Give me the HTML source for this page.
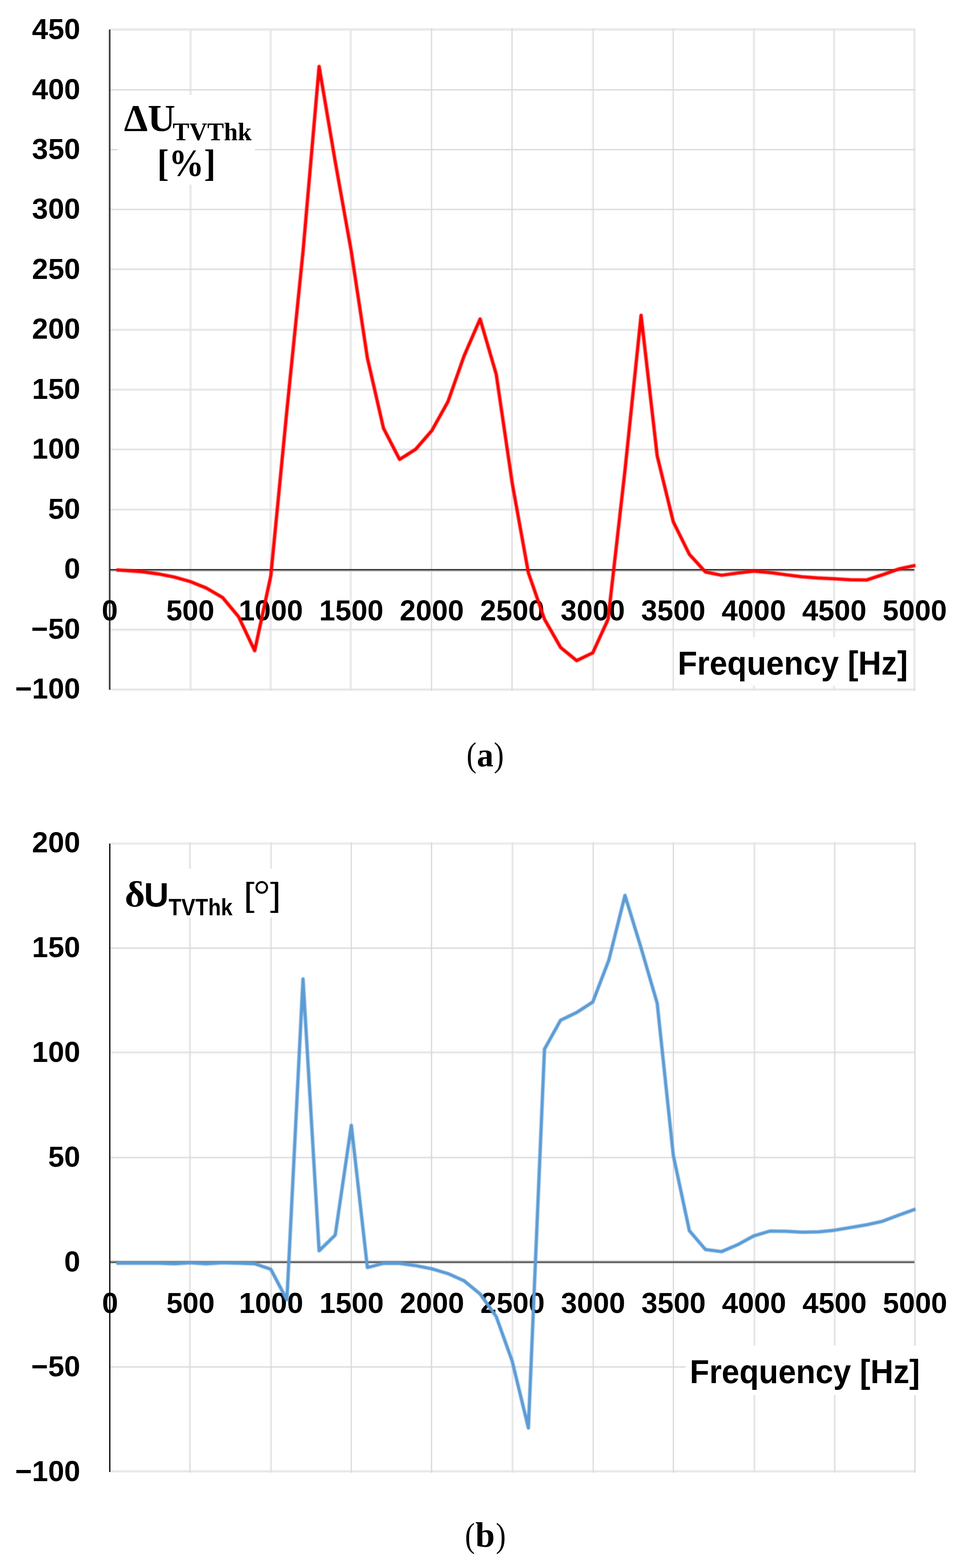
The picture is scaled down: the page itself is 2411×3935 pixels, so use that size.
<!DOCTYPE html>
<html lang="en"><head><meta charset="utf-8"><title>Figure: voltage error versus frequency</title>
<style>html,body{margin:0;padding:0;background:#fff}svg{display:block}text{filter:url(#ts)}.tk{font-family:"Liberation Sans",sans-serif;font-weight:bold;font-size:72.5px;fill:#000}.ax{font-family:"Liberation Sans",sans-serif;font-weight:bold;font-size:83.8px;fill:#000}.sb{font-family:"Liberation Serif",serif;font-weight:bold;fill:#000}.sr{font-family:"Liberation Serif",serif;font-weight:normal;fill:#000}.nb{font-family:"Liberation Sans",sans-serif;font-weight:bold;fill:#000}.nr{font-family:"Liberation Sans",sans-serif;font-weight:normal;fill:#000}</style></head><body>
<svg xmlns="http://www.w3.org/2000/svg" width="2411" height="3935" viewBox="0 0 2411 3935">
<defs><filter id="soft" x="-2%" y="-2%" width="104%" height="104%" filterUnits="objectBoundingBox"><feGaussianBlur stdDeviation="1.0"/></filter><filter id="ts" x="-5%" y="-20%" width="110%" height="140%"><feGaussianBlur stdDeviation="0.7"/></filter></defs>
<rect width="2411" height="3935" fill="#fff"/>
<g shape-rendering="crispEdges">
<rect x="277.0" y="71.0" width="2017.0" height="3.0" fill="#eaeaea"/>
<rect x="277.0" y="74.0" width="2017.0" height="3.0" fill="#eaeaea"/>
<rect x="277.0" y="224.0" width="2017.0" height="3.0" fill="#d9d9d9"/>
<rect x="277.0" y="227.0" width="2017.0" height="3.0" fill="#fcfcfc"/>
<rect x="277.0" y="374.0" width="2017.0" height="3.0" fill="#d9d9d9"/>
<rect x="277.0" y="377.0" width="2017.0" height="3.0" fill="#fcfcfc"/>
<rect x="277.0" y="524.0" width="2017.0" height="3.0" fill="#dbdbdb"/>
<rect x="277.0" y="527.0" width="2017.0" height="3.0" fill="#fbfbfb"/>
<rect x="277.0" y="674.0" width="2017.0" height="3.0" fill="#dbdbdb"/>
<rect x="277.0" y="677.0" width="2017.0" height="3.0" fill="#fafafa"/>
<rect x="277.0" y="824.0" width="2017.0" height="3.0" fill="#f2f2f2"/>
<rect x="277.0" y="827.0" width="2017.0" height="3.0" fill="#e2e2e2"/>
<rect x="277.0" y="974.0" width="2017.0" height="3.0" fill="#f4f4f4"/>
<rect x="277.0" y="977.0" width="2017.0" height="3.0" fill="#e1e1e1"/>
<rect x="277.0" y="1124.3" width="2017.0" height="3.0" fill="#f4f4f4"/>
<rect x="277.0" y="1127.3" width="2017.0" height="3.0" fill="#e1e1e1"/>
<rect x="277.0" y="1274.6" width="2017.0" height="3.0" fill="#f4f4f4"/>
<rect x="277.0" y="1277.6" width="2017.0" height="3.0" fill="#e1e1e1"/>
<rect x="277.0" y="1578.0" width="2017.0" height="3.0" fill="#e2e2e2"/>
<rect x="277.0" y="1581.0" width="2017.0" height="3.0" fill="#f0f0f0"/>
<rect x="277.0" y="1727.6" width="2017.0" height="3.0" fill="#e4e4e4"/>
<rect x="277.0" y="1730.6" width="2017.0" height="3.0" fill="#f0f0f0"/>
<rect x="475.0" y="74.0" width="3.0" height="1657.0" fill="#ebebeb"/>
<rect x="478.0" y="74.0" width="3.0" height="1657.0" fill="#ebebeb"/>
<rect x="676.0" y="74.0" width="3.0" height="1657.0" fill="#ebebeb"/>
<rect x="679.0" y="74.0" width="3.0" height="1657.0" fill="#ebebeb"/>
<rect x="877.0" y="74.0" width="3.0" height="1657.0" fill="#ececec"/>
<rect x="880.0" y="74.0" width="3.0" height="1657.0" fill="#ececec"/>
<rect x="1081.0" y="74.0" width="3.0" height="1657.0" fill="#dddddd"/>
<rect x="1084.0" y="74.0" width="3.0" height="1657.0" fill="#fafafa"/>
<rect x="1282.5" y="74.0" width="3.0" height="1657.0" fill="#dcdcdc"/>
<rect x="1285.5" y="74.0" width="3.0" height="1657.0" fill="#fafafa"/>
<rect x="1484.0" y="74.0" width="3.0" height="1657.0" fill="#f4f4f4"/>
<rect x="1487.0" y="74.0" width="3.0" height="1657.0" fill="#e1e1e1"/>
<rect x="1685.0" y="74.0" width="3.0" height="1657.0" fill="#f6f6f6"/>
<rect x="1688.0" y="74.0" width="3.0" height="1657.0" fill="#e1e1e1"/>
<rect x="1889.0" y="74.0" width="3.0" height="1657.0" fill="#e6e6e6"/>
<rect x="1892.0" y="74.0" width="3.0" height="1657.0" fill="#f0f0f0"/>
<rect x="2090.0" y="74.0" width="3.0" height="1657.0" fill="#e7e7e7"/>
<rect x="2093.0" y="74.0" width="3.0" height="1657.0" fill="#efefef"/>
<rect x="2291.0" y="74.0" width="3.0" height="1657.0" fill="#eaeaea"/>
<rect x="2294.0" y="74.0" width="3.0" height="1657.0" fill="#eaeaea"/>
<rect x="475.0" y="71.0" width="3.0" height="3.0" fill="#e7e7e7"/>
<rect x="478.0" y="71.0" width="3.0" height="3.0" fill="#e7e7e7"/>
<rect x="475.0" y="74.0" width="3.0" height="3.0" fill="#e7e7e7"/>
<rect x="478.0" y="74.0" width="3.0" height="3.0" fill="#e7e7e7"/>
<rect x="676.0" y="71.0" width="3.0" height="3.0" fill="#e7e7e7"/>
<rect x="679.0" y="71.0" width="3.0" height="3.0" fill="#e7e7e7"/>
<rect x="676.0" y="74.0" width="3.0" height="3.0" fill="#e7e7e7"/>
<rect x="679.0" y="74.0" width="3.0" height="3.0" fill="#e7e7e7"/>
<rect x="877.0" y="71.0" width="3.0" height="3.0" fill="#e7e7e7"/>
<rect x="880.0" y="71.0" width="3.0" height="3.0" fill="#e7e7e7"/>
<rect x="877.0" y="74.0" width="3.0" height="3.0" fill="#e7e7e7"/>
<rect x="880.0" y="74.0" width="3.0" height="3.0" fill="#e7e7e7"/>
<rect x="1081.0" y="71.0" width="3.0" height="3.0" fill="#dadada"/>
<rect x="1084.0" y="71.0" width="3.0" height="3.0" fill="#e9e9e9"/>
<rect x="1081.0" y="74.0" width="3.0" height="3.0" fill="#dadada"/>
<rect x="1084.0" y="74.0" width="3.0" height="3.0" fill="#e9e9e9"/>
<rect x="1282.5" y="71.0" width="3.0" height="3.0" fill="#d9d9d9"/>
<rect x="1285.5" y="71.0" width="3.0" height="3.0" fill="#e9e9e9"/>
<rect x="1282.5" y="74.0" width="3.0" height="3.0" fill="#d9d9d9"/>
<rect x="1285.5" y="74.0" width="3.0" height="3.0" fill="#e9e9e9"/>
<rect x="1484.0" y="71.0" width="3.0" height="3.0" fill="#e8e8e8"/>
<rect x="1487.0" y="71.0" width="3.0" height="3.0" fill="#dddddd"/>
<rect x="1484.0" y="74.0" width="3.0" height="3.0" fill="#e8e8e8"/>
<rect x="1487.0" y="74.0" width="3.0" height="3.0" fill="#dddddd"/>
<rect x="1685.0" y="71.0" width="3.0" height="3.0" fill="#e9e9e9"/>
<rect x="1688.0" y="71.0" width="3.0" height="3.0" fill="#dddddd"/>
<rect x="1685.0" y="74.0" width="3.0" height="3.0" fill="#e9e9e9"/>
<rect x="1688.0" y="74.0" width="3.0" height="3.0" fill="#dddddd"/>
<rect x="1889.0" y="71.0" width="3.0" height="3.0" fill="#e3e3e3"/>
<rect x="1892.0" y="71.0" width="3.0" height="3.0" fill="#e8e8e8"/>
<rect x="1889.0" y="74.0" width="3.0" height="3.0" fill="#e3e3e3"/>
<rect x="1892.0" y="74.0" width="3.0" height="3.0" fill="#e8e8e8"/>
<rect x="2090.0" y="71.0" width="3.0" height="3.0" fill="#e4e4e4"/>
<rect x="2093.0" y="71.0" width="3.0" height="3.0" fill="#e8e8e8"/>
<rect x="2090.0" y="74.0" width="3.0" height="3.0" fill="#e4e4e4"/>
<rect x="2093.0" y="74.0" width="3.0" height="3.0" fill="#e8e8e8"/>
<rect x="2291.0" y="71.0" width="3.0" height="3.0" fill="#e7e7e7"/>
<rect x="2294.0" y="71.0" width="3.0" height="3.0" fill="#e7e7e7"/>
<rect x="2291.0" y="74.0" width="3.0" height="3.0" fill="#e7e7e7"/>
<rect x="2294.0" y="74.0" width="3.0" height="3.0" fill="#e7e7e7"/>
<rect x="475.0" y="224.0" width="3.0" height="3.0" fill="#d9d9d9"/>
<rect x="478.0" y="224.0" width="3.0" height="3.0" fill="#d9d9d9"/>
<rect x="475.0" y="227.0" width="3.0" height="3.0" fill="#ebebeb"/>
<rect x="478.0" y="227.0" width="3.0" height="3.0" fill="#ebebeb"/>
<rect x="676.0" y="224.0" width="3.0" height="3.0" fill="#d9d9d9"/>
<rect x="679.0" y="224.0" width="3.0" height="3.0" fill="#d9d9d9"/>
<rect x="676.0" y="227.0" width="3.0" height="3.0" fill="#ebebeb"/>
<rect x="679.0" y="227.0" width="3.0" height="3.0" fill="#ebebeb"/>
<rect x="877.0" y="224.0" width="3.0" height="3.0" fill="#d9d9d9"/>
<rect x="880.0" y="224.0" width="3.0" height="3.0" fill="#d9d9d9"/>
<rect x="877.0" y="227.0" width="3.0" height="3.0" fill="#ececec"/>
<rect x="880.0" y="227.0" width="3.0" height="3.0" fill="#ececec"/>
<rect x="1081.0" y="224.0" width="3.0" height="3.0" fill="#d9d9d9"/>
<rect x="1084.0" y="224.0" width="3.0" height="3.0" fill="#d9d9d9"/>
<rect x="1081.0" y="227.0" width="3.0" height="3.0" fill="#dcdcdc"/>
<rect x="1084.0" y="227.0" width="3.0" height="3.0" fill="#fafafa"/>
<rect x="1282.5" y="224.0" width="3.0" height="3.0" fill="#d9d9d9"/>
<rect x="1285.5" y="224.0" width="3.0" height="3.0" fill="#d9d9d9"/>
<rect x="1282.5" y="227.0" width="3.0" height="3.0" fill="#dcdcdc"/>
<rect x="1285.5" y="227.0" width="3.0" height="3.0" fill="#fafafa"/>
<rect x="1484.0" y="224.0" width="3.0" height="3.0" fill="#d9d9d9"/>
<rect x="1487.0" y="224.0" width="3.0" height="3.0" fill="#d9d9d9"/>
<rect x="1484.0" y="227.0" width="3.0" height="3.0" fill="#f3f3f3"/>
<rect x="1487.0" y="227.0" width="3.0" height="3.0" fill="#e0e0e0"/>
<rect x="1685.0" y="224.0" width="3.0" height="3.0" fill="#d9d9d9"/>
<rect x="1688.0" y="224.0" width="3.0" height="3.0" fill="#d9d9d9"/>
<rect x="1685.0" y="227.0" width="3.0" height="3.0" fill="#f5f5f5"/>
<rect x="1688.0" y="227.0" width="3.0" height="3.0" fill="#e0e0e0"/>
<rect x="1889.0" y="224.0" width="3.0" height="3.0" fill="#d9d9d9"/>
<rect x="1892.0" y="224.0" width="3.0" height="3.0" fill="#d9d9d9"/>
<rect x="1889.0" y="227.0" width="3.0" height="3.0" fill="#e5e5e5"/>
<rect x="1892.0" y="227.0" width="3.0" height="3.0" fill="#efefef"/>
<rect x="2090.0" y="224.0" width="3.0" height="3.0" fill="#d9d9d9"/>
<rect x="2093.0" y="224.0" width="3.0" height="3.0" fill="#d9d9d9"/>
<rect x="2090.0" y="227.0" width="3.0" height="3.0" fill="#e7e7e7"/>
<rect x="2093.0" y="227.0" width="3.0" height="3.0" fill="#efefef"/>
<rect x="2291.0" y="224.0" width="3.0" height="3.0" fill="#d9d9d9"/>
<rect x="2294.0" y="224.0" width="3.0" height="3.0" fill="#d9d9d9"/>
<rect x="2291.0" y="227.0" width="3.0" height="3.0" fill="#eaeaea"/>
<rect x="2294.0" y="227.0" width="3.0" height="3.0" fill="#eaeaea"/>
<rect x="475.0" y="374.0" width="3.0" height="3.0" fill="#d9d9d9"/>
<rect x="478.0" y="374.0" width="3.0" height="3.0" fill="#d9d9d9"/>
<rect x="475.0" y="377.0" width="3.0" height="3.0" fill="#ebebeb"/>
<rect x="478.0" y="377.0" width="3.0" height="3.0" fill="#ebebeb"/>
<rect x="676.0" y="374.0" width="3.0" height="3.0" fill="#d9d9d9"/>
<rect x="679.0" y="374.0" width="3.0" height="3.0" fill="#d9d9d9"/>
<rect x="676.0" y="377.0" width="3.0" height="3.0" fill="#ebebeb"/>
<rect x="679.0" y="377.0" width="3.0" height="3.0" fill="#ebebeb"/>
<rect x="877.0" y="374.0" width="3.0" height="3.0" fill="#d9d9d9"/>
<rect x="880.0" y="374.0" width="3.0" height="3.0" fill="#d9d9d9"/>
<rect x="877.0" y="377.0" width="3.0" height="3.0" fill="#ececec"/>
<rect x="880.0" y="377.0" width="3.0" height="3.0" fill="#ececec"/>
<rect x="1081.0" y="374.0" width="3.0" height="3.0" fill="#d9d9d9"/>
<rect x="1084.0" y="374.0" width="3.0" height="3.0" fill="#d9d9d9"/>
<rect x="1081.0" y="377.0" width="3.0" height="3.0" fill="#dcdcdc"/>
<rect x="1084.0" y="377.0" width="3.0" height="3.0" fill="#fafafa"/>
<rect x="1282.5" y="374.0" width="3.0" height="3.0" fill="#d9d9d9"/>
<rect x="1285.5" y="374.0" width="3.0" height="3.0" fill="#d9d9d9"/>
<rect x="1282.5" y="377.0" width="3.0" height="3.0" fill="#dcdcdc"/>
<rect x="1285.5" y="377.0" width="3.0" height="3.0" fill="#fafafa"/>
<rect x="1484.0" y="374.0" width="3.0" height="3.0" fill="#d9d9d9"/>
<rect x="1487.0" y="374.0" width="3.0" height="3.0" fill="#d9d9d9"/>
<rect x="1484.0" y="377.0" width="3.0" height="3.0" fill="#f3f3f3"/>
<rect x="1487.0" y="377.0" width="3.0" height="3.0" fill="#e0e0e0"/>
<rect x="1685.0" y="374.0" width="3.0" height="3.0" fill="#d9d9d9"/>
<rect x="1688.0" y="374.0" width="3.0" height="3.0" fill="#d9d9d9"/>
<rect x="1685.0" y="377.0" width="3.0" height="3.0" fill="#f5f5f5"/>
<rect x="1688.0" y="377.0" width="3.0" height="3.0" fill="#e0e0e0"/>
<rect x="1889.0" y="374.0" width="3.0" height="3.0" fill="#d9d9d9"/>
<rect x="1892.0" y="374.0" width="3.0" height="3.0" fill="#d9d9d9"/>
<rect x="1889.0" y="377.0" width="3.0" height="3.0" fill="#e5e5e5"/>
<rect x="1892.0" y="377.0" width="3.0" height="3.0" fill="#efefef"/>
<rect x="2090.0" y="374.0" width="3.0" height="3.0" fill="#d9d9d9"/>
<rect x="2093.0" y="374.0" width="3.0" height="3.0" fill="#d9d9d9"/>
<rect x="2090.0" y="377.0" width="3.0" height="3.0" fill="#e7e7e7"/>
<rect x="2093.0" y="377.0" width="3.0" height="3.0" fill="#efefef"/>
<rect x="2291.0" y="374.0" width="3.0" height="3.0" fill="#d9d9d9"/>
<rect x="2294.0" y="374.0" width="3.0" height="3.0" fill="#d9d9d9"/>
<rect x="2291.0" y="377.0" width="3.0" height="3.0" fill="#eaeaea"/>
<rect x="2294.0" y="377.0" width="3.0" height="3.0" fill="#eaeaea"/>
<rect x="475.0" y="524.0" width="3.0" height="3.0" fill="#d9d9d9"/>
<rect x="478.0" y="524.0" width="3.0" height="3.0" fill="#d9d9d9"/>
<rect x="475.0" y="527.0" width="3.0" height="3.0" fill="#ebebeb"/>
<rect x="478.0" y="527.0" width="3.0" height="3.0" fill="#ebebeb"/>
<rect x="676.0" y="524.0" width="3.0" height="3.0" fill="#d9d9d9"/>
<rect x="679.0" y="524.0" width="3.0" height="3.0" fill="#d9d9d9"/>
<rect x="676.0" y="527.0" width="3.0" height="3.0" fill="#ebebeb"/>
<rect x="679.0" y="527.0" width="3.0" height="3.0" fill="#ebebeb"/>
<rect x="877.0" y="524.0" width="3.0" height="3.0" fill="#d9d9d9"/>
<rect x="880.0" y="524.0" width="3.0" height="3.0" fill="#d9d9d9"/>
<rect x="877.0" y="527.0" width="3.0" height="3.0" fill="#ebebeb"/>
<rect x="880.0" y="527.0" width="3.0" height="3.0" fill="#ebebeb"/>
<rect x="1081.0" y="524.0" width="3.0" height="3.0" fill="#d9d9d9"/>
<rect x="1084.0" y="524.0" width="3.0" height="3.0" fill="#dadada"/>
<rect x="1081.0" y="527.0" width="3.0" height="3.0" fill="#dcdcdc"/>
<rect x="1084.0" y="527.0" width="3.0" height="3.0" fill="#fafafa"/>
<rect x="1282.5" y="524.0" width="3.0" height="3.0" fill="#d9d9d9"/>
<rect x="1285.5" y="524.0" width="3.0" height="3.0" fill="#dadada"/>
<rect x="1282.5" y="527.0" width="3.0" height="3.0" fill="#dbdbdb"/>
<rect x="1285.5" y="527.0" width="3.0" height="3.0" fill="#fafafa"/>
<rect x="1484.0" y="524.0" width="3.0" height="3.0" fill="#d9d9d9"/>
<rect x="1487.0" y="524.0" width="3.0" height="3.0" fill="#d9d9d9"/>
<rect x="1484.0" y="527.0" width="3.0" height="3.0" fill="#f3f3f3"/>
<rect x="1487.0" y="527.0" width="3.0" height="3.0" fill="#e0e0e0"/>
<rect x="1685.0" y="524.0" width="3.0" height="3.0" fill="#d9d9d9"/>
<rect x="1688.0" y="524.0" width="3.0" height="3.0" fill="#d9d9d9"/>
<rect x="1685.0" y="527.0" width="3.0" height="3.0" fill="#f5f5f5"/>
<rect x="1688.0" y="527.0" width="3.0" height="3.0" fill="#e0e0e0"/>
<rect x="1889.0" y="524.0" width="3.0" height="3.0" fill="#d9d9d9"/>
<rect x="1892.0" y="524.0" width="3.0" height="3.0" fill="#d9d9d9"/>
<rect x="1889.0" y="527.0" width="3.0" height="3.0" fill="#e5e5e5"/>
<rect x="1892.0" y="527.0" width="3.0" height="3.0" fill="#efefef"/>
<rect x="2090.0" y="524.0" width="3.0" height="3.0" fill="#d9d9d9"/>
<rect x="2093.0" y="524.0" width="3.0" height="3.0" fill="#d9d9d9"/>
<rect x="2090.0" y="527.0" width="3.0" height="3.0" fill="#e6e6e6"/>
<rect x="2093.0" y="527.0" width="3.0" height="3.0" fill="#eeeeee"/>
<rect x="2291.0" y="524.0" width="3.0" height="3.0" fill="#d9d9d9"/>
<rect x="2294.0" y="524.0" width="3.0" height="3.0" fill="#d9d9d9"/>
<rect x="2291.0" y="527.0" width="3.0" height="3.0" fill="#eaeaea"/>
<rect x="2294.0" y="527.0" width="3.0" height="3.0" fill="#eaeaea"/>
<rect x="475.0" y="674.0" width="3.0" height="3.0" fill="#d9d9d9"/>
<rect x="478.0" y="674.0" width="3.0" height="3.0" fill="#d9d9d9"/>
<rect x="475.0" y="677.0" width="3.0" height="3.0" fill="#ebebeb"/>
<rect x="478.0" y="677.0" width="3.0" height="3.0" fill="#ebebeb"/>
<rect x="676.0" y="674.0" width="3.0" height="3.0" fill="#d9d9d9"/>
<rect x="679.0" y="674.0" width="3.0" height="3.0" fill="#d9d9d9"/>
<rect x="676.0" y="677.0" width="3.0" height="3.0" fill="#ebebeb"/>
<rect x="679.0" y="677.0" width="3.0" height="3.0" fill="#ebebeb"/>
<rect x="877.0" y="674.0" width="3.0" height="3.0" fill="#d9d9d9"/>
<rect x="880.0" y="674.0" width="3.0" height="3.0" fill="#d9d9d9"/>
<rect x="877.0" y="677.0" width="3.0" height="3.0" fill="#ebebeb"/>
<rect x="880.0" y="677.0" width="3.0" height="3.0" fill="#ebebeb"/>
<rect x="1081.0" y="674.0" width="3.0" height="3.0" fill="#d9d9d9"/>
<rect x="1084.0" y="674.0" width="3.0" height="3.0" fill="#dadada"/>
<rect x="1081.0" y="677.0" width="3.0" height="3.0" fill="#dcdcdc"/>
<rect x="1084.0" y="677.0" width="3.0" height="3.0" fill="#fafafa"/>
<rect x="1282.5" y="674.0" width="3.0" height="3.0" fill="#d9d9d9"/>
<rect x="1285.5" y="674.0" width="3.0" height="3.0" fill="#dadada"/>
<rect x="1282.5" y="677.0" width="3.0" height="3.0" fill="#dbdbdb"/>
<rect x="1285.5" y="677.0" width="3.0" height="3.0" fill="#fafafa"/>
<rect x="1484.0" y="674.0" width="3.0" height="3.0" fill="#d9d9d9"/>
<rect x="1487.0" y="674.0" width="3.0" height="3.0" fill="#d9d9d9"/>
<rect x="1484.0" y="677.0" width="3.0" height="3.0" fill="#f3f3f3"/>
<rect x="1487.0" y="677.0" width="3.0" height="3.0" fill="#e0e0e0"/>
<rect x="1685.0" y="674.0" width="3.0" height="3.0" fill="#d9d9d9"/>
<rect x="1688.0" y="674.0" width="3.0" height="3.0" fill="#d9d9d9"/>
<rect x="1685.0" y="677.0" width="3.0" height="3.0" fill="#f5f5f5"/>
<rect x="1688.0" y="677.0" width="3.0" height="3.0" fill="#e0e0e0"/>
<rect x="1889.0" y="674.0" width="3.0" height="3.0" fill="#d9d9d9"/>
<rect x="1892.0" y="674.0" width="3.0" height="3.0" fill="#d9d9d9"/>
<rect x="1889.0" y="677.0" width="3.0" height="3.0" fill="#e5e5e5"/>
<rect x="1892.0" y="677.0" width="3.0" height="3.0" fill="#efefef"/>
<rect x="2090.0" y="674.0" width="3.0" height="3.0" fill="#d9d9d9"/>
<rect x="2093.0" y="674.0" width="3.0" height="3.0" fill="#d9d9d9"/>
<rect x="2090.0" y="677.0" width="3.0" height="3.0" fill="#e6e6e6"/>
<rect x="2093.0" y="677.0" width="3.0" height="3.0" fill="#eeeeee"/>
<rect x="2291.0" y="674.0" width="3.0" height="3.0" fill="#d9d9d9"/>
<rect x="2294.0" y="674.0" width="3.0" height="3.0" fill="#d9d9d9"/>
<rect x="2291.0" y="677.0" width="3.0" height="3.0" fill="#e9e9e9"/>
<rect x="2294.0" y="677.0" width="3.0" height="3.0" fill="#e9e9e9"/>
<rect x="475.0" y="824.0" width="3.0" height="3.0" fill="#e9e9e9"/>
<rect x="478.0" y="824.0" width="3.0" height="3.0" fill="#e9e9e9"/>
<rect x="475.0" y="827.0" width="3.0" height="3.0" fill="#e0e0e0"/>
<rect x="478.0" y="827.0" width="3.0" height="3.0" fill="#e0e0e0"/>
<rect x="676.0" y="824.0" width="3.0" height="3.0" fill="#e9e9e9"/>
<rect x="679.0" y="824.0" width="3.0" height="3.0" fill="#e9e9e9"/>
<rect x="676.0" y="827.0" width="3.0" height="3.0" fill="#e0e0e0"/>
<rect x="679.0" y="827.0" width="3.0" height="3.0" fill="#e0e0e0"/>
<rect x="877.0" y="824.0" width="3.0" height="3.0" fill="#eaeaea"/>
<rect x="880.0" y="824.0" width="3.0" height="3.0" fill="#eaeaea"/>
<rect x="877.0" y="827.0" width="3.0" height="3.0" fill="#e0e0e0"/>
<rect x="880.0" y="827.0" width="3.0" height="3.0" fill="#e0e0e0"/>
<rect x="1081.0" y="824.0" width="3.0" height="3.0" fill="#dbdbdb"/>
<rect x="1084.0" y="824.0" width="3.0" height="3.0" fill="#f1f1f1"/>
<rect x="1081.0" y="827.0" width="3.0" height="3.0" fill="#d9d9d9"/>
<rect x="1084.0" y="827.0" width="3.0" height="3.0" fill="#e2e2e2"/>
<rect x="1282.5" y="824.0" width="3.0" height="3.0" fill="#dadada"/>
<rect x="1285.5" y="824.0" width="3.0" height="3.0" fill="#f1f1f1"/>
<rect x="1282.5" y="827.0" width="3.0" height="3.0" fill="#d9d9d9"/>
<rect x="1285.5" y="827.0" width="3.0" height="3.0" fill="#e2e2e2"/>
<rect x="1484.0" y="824.0" width="3.0" height="3.0" fill="#f0f0f0"/>
<rect x="1487.0" y="824.0" width="3.0" height="3.0" fill="#dfdfdf"/>
<rect x="1484.0" y="827.0" width="3.0" height="3.0" fill="#e1e1e1"/>
<rect x="1487.0" y="827.0" width="3.0" height="3.0" fill="#dcdcdc"/>
<rect x="1685.0" y="824.0" width="3.0" height="3.0" fill="#f0f0f0"/>
<rect x="1688.0" y="824.0" width="3.0" height="3.0" fill="#dfdfdf"/>
<rect x="1685.0" y="827.0" width="3.0" height="3.0" fill="#e1e1e1"/>
<rect x="1688.0" y="827.0" width="3.0" height="3.0" fill="#dcdcdc"/>
<rect x="1889.0" y="824.0" width="3.0" height="3.0" fill="#e4e4e4"/>
<rect x="1892.0" y="824.0" width="3.0" height="3.0" fill="#eeeeee"/>
<rect x="1889.0" y="827.0" width="3.0" height="3.0" fill="#dfdfdf"/>
<rect x="1892.0" y="827.0" width="3.0" height="3.0" fill="#e0e0e0"/>
<rect x="2090.0" y="824.0" width="3.0" height="3.0" fill="#e5e5e5"/>
<rect x="2093.0" y="824.0" width="3.0" height="3.0" fill="#ededed"/>
<rect x="2090.0" y="827.0" width="3.0" height="3.0" fill="#dfdfdf"/>
<rect x="2093.0" y="827.0" width="3.0" height="3.0" fill="#e0e0e0"/>
<rect x="2291.0" y="824.0" width="3.0" height="3.0" fill="#e8e8e8"/>
<rect x="2294.0" y="824.0" width="3.0" height="3.0" fill="#e8e8e8"/>
<rect x="2291.0" y="827.0" width="3.0" height="3.0" fill="#dfdfdf"/>
<rect x="2294.0" y="827.0" width="3.0" height="3.0" fill="#dfdfdf"/>
<rect x="475.0" y="974.0" width="3.0" height="3.0" fill="#eaeaea"/>
<rect x="478.0" y="974.0" width="3.0" height="3.0" fill="#eaeaea"/>
<rect x="475.0" y="977.0" width="3.0" height="3.0" fill="#dedede"/>
<rect x="478.0" y="977.0" width="3.0" height="3.0" fill="#dedede"/>
<rect x="676.0" y="974.0" width="3.0" height="3.0" fill="#eaeaea"/>
<rect x="679.0" y="974.0" width="3.0" height="3.0" fill="#eaeaea"/>
<rect x="676.0" y="977.0" width="3.0" height="3.0" fill="#dedede"/>
<rect x="679.0" y="977.0" width="3.0" height="3.0" fill="#dedede"/>
<rect x="877.0" y="974.0" width="3.0" height="3.0" fill="#eaeaea"/>
<rect x="880.0" y="974.0" width="3.0" height="3.0" fill="#eaeaea"/>
<rect x="877.0" y="977.0" width="3.0" height="3.0" fill="#dedede"/>
<rect x="880.0" y="977.0" width="3.0" height="3.0" fill="#dedede"/>
<rect x="1081.0" y="974.0" width="3.0" height="3.0" fill="#dbdbdb"/>
<rect x="1084.0" y="974.0" width="3.0" height="3.0" fill="#f3f3f3"/>
<rect x="1081.0" y="977.0" width="3.0" height="3.0" fill="#d9d9d9"/>
<rect x="1084.0" y="977.0" width="3.0" height="3.0" fill="#e0e0e0"/>
<rect x="1282.5" y="974.0" width="3.0" height="3.0" fill="#dadada"/>
<rect x="1285.5" y="974.0" width="3.0" height="3.0" fill="#f3f3f3"/>
<rect x="1282.5" y="977.0" width="3.0" height="3.0" fill="#d9d9d9"/>
<rect x="1285.5" y="977.0" width="3.0" height="3.0" fill="#e0e0e0"/>
<rect x="1484.0" y="974.0" width="3.0" height="3.0" fill="#f2f2f2"/>
<rect x="1487.0" y="974.0" width="3.0" height="3.0" fill="#dfdfdf"/>
<rect x="1484.0" y="977.0" width="3.0" height="3.0" fill="#dfdfdf"/>
<rect x="1487.0" y="977.0" width="3.0" height="3.0" fill="#dcdcdc"/>
<rect x="1685.0" y="974.0" width="3.0" height="3.0" fill="#f2f2f2"/>
<rect x="1688.0" y="974.0" width="3.0" height="3.0" fill="#dfdfdf"/>
<rect x="1685.0" y="977.0" width="3.0" height="3.0" fill="#dfdfdf"/>
<rect x="1688.0" y="977.0" width="3.0" height="3.0" fill="#dcdcdc"/>
<rect x="1889.0" y="974.0" width="3.0" height="3.0" fill="#e4e4e4"/>
<rect x="1892.0" y="974.0" width="3.0" height="3.0" fill="#eeeeee"/>
<rect x="1889.0" y="977.0" width="3.0" height="3.0" fill="#dddddd"/>
<rect x="1892.0" y="977.0" width="3.0" height="3.0" fill="#dedede"/>
<rect x="2090.0" y="974.0" width="3.0" height="3.0" fill="#e5e5e5"/>
<rect x="2093.0" y="974.0" width="3.0" height="3.0" fill="#ededed"/>
<rect x="2090.0" y="977.0" width="3.0" height="3.0" fill="#dddddd"/>
<rect x="2093.0" y="977.0" width="3.0" height="3.0" fill="#dedede"/>
<rect x="2291.0" y="974.0" width="3.0" height="3.0" fill="#e8e8e8"/>
<rect x="2294.0" y="974.0" width="3.0" height="3.0" fill="#e8e8e8"/>
<rect x="2291.0" y="977.0" width="3.0" height="3.0" fill="#dddddd"/>
<rect x="2294.0" y="977.0" width="3.0" height="3.0" fill="#dddddd"/>
<rect x="475.0" y="1124.3" width="3.0" height="3.0" fill="#eaeaea"/>
<rect x="478.0" y="1124.3" width="3.0" height="3.0" fill="#eaeaea"/>
<rect x="475.0" y="1127.3" width="3.0" height="3.0" fill="#dedede"/>
<rect x="478.0" y="1127.3" width="3.0" height="3.0" fill="#dedede"/>
<rect x="676.0" y="1124.3" width="3.0" height="3.0" fill="#eaeaea"/>
<rect x="679.0" y="1124.3" width="3.0" height="3.0" fill="#eaeaea"/>
<rect x="676.0" y="1127.3" width="3.0" height="3.0" fill="#dedede"/>
<rect x="679.0" y="1127.3" width="3.0" height="3.0" fill="#dedede"/>
<rect x="877.0" y="1124.3" width="3.0" height="3.0" fill="#eaeaea"/>
<rect x="880.0" y="1124.3" width="3.0" height="3.0" fill="#eaeaea"/>
<rect x="877.0" y="1127.3" width="3.0" height="3.0" fill="#dedede"/>
<rect x="880.0" y="1127.3" width="3.0" height="3.0" fill="#dedede"/>
<rect x="1081.0" y="1124.3" width="3.0" height="3.0" fill="#dbdbdb"/>
<rect x="1084.0" y="1124.3" width="3.0" height="3.0" fill="#f3f3f3"/>
<rect x="1081.0" y="1127.3" width="3.0" height="3.0" fill="#d9d9d9"/>
<rect x="1084.0" y="1127.3" width="3.0" height="3.0" fill="#e0e0e0"/>
<rect x="1282.5" y="1124.3" width="3.0" height="3.0" fill="#dadada"/>
<rect x="1285.5" y="1124.3" width="3.0" height="3.0" fill="#f3f3f3"/>
<rect x="1282.5" y="1127.3" width="3.0" height="3.0" fill="#d9d9d9"/>
<rect x="1285.5" y="1127.3" width="3.0" height="3.0" fill="#e0e0e0"/>
<rect x="1484.0" y="1124.3" width="3.0" height="3.0" fill="#f2f2f2"/>
<rect x="1487.0" y="1124.3" width="3.0" height="3.0" fill="#dfdfdf"/>
<rect x="1484.0" y="1127.3" width="3.0" height="3.0" fill="#dfdfdf"/>
<rect x="1487.0" y="1127.3" width="3.0" height="3.0" fill="#dcdcdc"/>
<rect x="1685.0" y="1124.3" width="3.0" height="3.0" fill="#f2f2f2"/>
<rect x="1688.0" y="1124.3" width="3.0" height="3.0" fill="#dfdfdf"/>
<rect x="1685.0" y="1127.3" width="3.0" height="3.0" fill="#dfdfdf"/>
<rect x="1688.0" y="1127.3" width="3.0" height="3.0" fill="#dcdcdc"/>
<rect x="1889.0" y="1124.3" width="3.0" height="3.0" fill="#e4e4e4"/>
<rect x="1892.0" y="1124.3" width="3.0" height="3.0" fill="#eeeeee"/>
<rect x="1889.0" y="1127.3" width="3.0" height="3.0" fill="#dddddd"/>
<rect x="1892.0" y="1127.3" width="3.0" height="3.0" fill="#dedede"/>
<rect x="2090.0" y="1124.3" width="3.0" height="3.0" fill="#e5e5e5"/>
<rect x="2093.0" y="1124.3" width="3.0" height="3.0" fill="#ededed"/>
<rect x="2090.0" y="1127.3" width="3.0" height="3.0" fill="#dddddd"/>
<rect x="2093.0" y="1127.3" width="3.0" height="3.0" fill="#dedede"/>
<rect x="2291.0" y="1124.3" width="3.0" height="3.0" fill="#e8e8e8"/>
<rect x="2294.0" y="1124.3" width="3.0" height="3.0" fill="#e8e8e8"/>
<rect x="2291.0" y="1127.3" width="3.0" height="3.0" fill="#dddddd"/>
<rect x="2294.0" y="1127.3" width="3.0" height="3.0" fill="#dddddd"/>
<rect x="475.0" y="1274.6" width="3.0" height="3.0" fill="#eaeaea"/>
<rect x="478.0" y="1274.6" width="3.0" height="3.0" fill="#eaeaea"/>
<rect x="475.0" y="1277.6" width="3.0" height="3.0" fill="#dedede"/>
<rect x="478.0" y="1277.6" width="3.0" height="3.0" fill="#dedede"/>
<rect x="676.0" y="1274.6" width="3.0" height="3.0" fill="#eaeaea"/>
<rect x="679.0" y="1274.6" width="3.0" height="3.0" fill="#eaeaea"/>
<rect x="676.0" y="1277.6" width="3.0" height="3.0" fill="#dedede"/>
<rect x="679.0" y="1277.6" width="3.0" height="3.0" fill="#dedede"/>
<rect x="877.0" y="1274.6" width="3.0" height="3.0" fill="#eaeaea"/>
<rect x="880.0" y="1274.6" width="3.0" height="3.0" fill="#eaeaea"/>
<rect x="877.0" y="1277.6" width="3.0" height="3.0" fill="#dedede"/>
<rect x="880.0" y="1277.6" width="3.0" height="3.0" fill="#dedede"/>
<rect x="1081.0" y="1274.6" width="3.0" height="3.0" fill="#dbdbdb"/>
<rect x="1084.0" y="1274.6" width="3.0" height="3.0" fill="#f3f3f3"/>
<rect x="1081.0" y="1277.6" width="3.0" height="3.0" fill="#d9d9d9"/>
<rect x="1084.0" y="1277.6" width="3.0" height="3.0" fill="#e0e0e0"/>
<rect x="1282.5" y="1274.6" width="3.0" height="3.0" fill="#dadada"/>
<rect x="1285.5" y="1274.6" width="3.0" height="3.0" fill="#f3f3f3"/>
<rect x="1282.5" y="1277.6" width="3.0" height="3.0" fill="#d9d9d9"/>
<rect x="1285.5" y="1277.6" width="3.0" height="3.0" fill="#e0e0e0"/>
<rect x="1484.0" y="1274.6" width="3.0" height="3.0" fill="#f2f2f2"/>
<rect x="1487.0" y="1274.6" width="3.0" height="3.0" fill="#dfdfdf"/>
<rect x="1484.0" y="1277.6" width="3.0" height="3.0" fill="#dfdfdf"/>
<rect x="1487.0" y="1277.6" width="3.0" height="3.0" fill="#dcdcdc"/>
<rect x="1685.0" y="1274.6" width="3.0" height="3.0" fill="#f2f2f2"/>
<rect x="1688.0" y="1274.6" width="3.0" height="3.0" fill="#dfdfdf"/>
<rect x="1685.0" y="1277.6" width="3.0" height="3.0" fill="#dfdfdf"/>
<rect x="1688.0" y="1277.6" width="3.0" height="3.0" fill="#dcdcdc"/>
<rect x="1889.0" y="1274.6" width="3.0" height="3.0" fill="#e4e4e4"/>
<rect x="1892.0" y="1274.6" width="3.0" height="3.0" fill="#eeeeee"/>
<rect x="1889.0" y="1277.6" width="3.0" height="3.0" fill="#dddddd"/>
<rect x="1892.0" y="1277.6" width="3.0" height="3.0" fill="#dedede"/>
<rect x="2090.0" y="1274.6" width="3.0" height="3.0" fill="#e5e5e5"/>
<rect x="2093.0" y="1274.6" width="3.0" height="3.0" fill="#ededed"/>
<rect x="2090.0" y="1277.6" width="3.0" height="3.0" fill="#dddddd"/>
<rect x="2093.0" y="1277.6" width="3.0" height="3.0" fill="#dedede"/>
<rect x="2291.0" y="1274.6" width="3.0" height="3.0" fill="#e8e8e8"/>
<rect x="2294.0" y="1274.6" width="3.0" height="3.0" fill="#e8e8e8"/>
<rect x="2291.0" y="1277.6" width="3.0" height="3.0" fill="#dddddd"/>
<rect x="2294.0" y="1277.6" width="3.0" height="3.0" fill="#dddddd"/>
<rect x="475.0" y="1578.0" width="3.0" height="3.0" fill="#e0e0e0"/>
<rect x="478.0" y="1578.0" width="3.0" height="3.0" fill="#e0e0e0"/>
<rect x="475.0" y="1581.0" width="3.0" height="3.0" fill="#e9e9e9"/>
<rect x="478.0" y="1581.0" width="3.0" height="3.0" fill="#e9e9e9"/>
<rect x="676.0" y="1578.0" width="3.0" height="3.0" fill="#e0e0e0"/>
<rect x="679.0" y="1578.0" width="3.0" height="3.0" fill="#e0e0e0"/>
<rect x="676.0" y="1581.0" width="3.0" height="3.0" fill="#e9e9e9"/>
<rect x="679.0" y="1581.0" width="3.0" height="3.0" fill="#e9e9e9"/>
<rect x="877.0" y="1578.0" width="3.0" height="3.0" fill="#e0e0e0"/>
<rect x="880.0" y="1578.0" width="3.0" height="3.0" fill="#e0e0e0"/>
<rect x="877.0" y="1581.0" width="3.0" height="3.0" fill="#eaeaea"/>
<rect x="880.0" y="1581.0" width="3.0" height="3.0" fill="#eaeaea"/>
<rect x="1081.0" y="1578.0" width="3.0" height="3.0" fill="#d9d9d9"/>
<rect x="1084.0" y="1578.0" width="3.0" height="3.0" fill="#e2e2e2"/>
<rect x="1081.0" y="1581.0" width="3.0" height="3.0" fill="#dbdbdb"/>
<rect x="1084.0" y="1581.0" width="3.0" height="3.0" fill="#efefef"/>
<rect x="1282.5" y="1578.0" width="3.0" height="3.0" fill="#d9d9d9"/>
<rect x="1285.5" y="1578.0" width="3.0" height="3.0" fill="#e2e2e2"/>
<rect x="1282.5" y="1581.0" width="3.0" height="3.0" fill="#dadada"/>
<rect x="1285.5" y="1581.0" width="3.0" height="3.0" fill="#efefef"/>
<rect x="1484.0" y="1578.0" width="3.0" height="3.0" fill="#e1e1e1"/>
<rect x="1487.0" y="1578.0" width="3.0" height="3.0" fill="#dcdcdc"/>
<rect x="1484.0" y="1581.0" width="3.0" height="3.0" fill="#eeeeee"/>
<rect x="1487.0" y="1581.0" width="3.0" height="3.0" fill="#dedede"/>
<rect x="1685.0" y="1578.0" width="3.0" height="3.0" fill="#e1e1e1"/>
<rect x="1688.0" y="1578.0" width="3.0" height="3.0" fill="#dcdcdc"/>
<rect x="1685.0" y="1581.0" width="3.0" height="3.0" fill="#eeeeee"/>
<rect x="1688.0" y="1581.0" width="3.0" height="3.0" fill="#dedede"/>
<rect x="1889.0" y="1578.0" width="3.0" height="3.0" fill="#dfdfdf"/>
<rect x="1892.0" y="1578.0" width="3.0" height="3.0" fill="#e0e0e0"/>
<rect x="1889.0" y="1581.0" width="3.0" height="3.0" fill="#e4e4e4"/>
<rect x="1892.0" y="1581.0" width="3.0" height="3.0" fill="#eeeeee"/>
<rect x="2090.0" y="1578.0" width="3.0" height="3.0" fill="#dfdfdf"/>
<rect x="2093.0" y="1578.0" width="3.0" height="3.0" fill="#e0e0e0"/>
<rect x="2090.0" y="1581.0" width="3.0" height="3.0" fill="#e5e5e5"/>
<rect x="2093.0" y="1581.0" width="3.0" height="3.0" fill="#ededed"/>
<rect x="2291.0" y="1578.0" width="3.0" height="3.0" fill="#dfdfdf"/>
<rect x="2294.0" y="1578.0" width="3.0" height="3.0" fill="#dfdfdf"/>
<rect x="2291.0" y="1581.0" width="3.0" height="3.0" fill="#e8e8e8"/>
<rect x="2294.0" y="1581.0" width="3.0" height="3.0" fill="#e8e8e8"/>
<rect x="475.0" y="1727.6" width="3.0" height="3.0" fill="#e1e1e1"/>
<rect x="478.0" y="1727.6" width="3.0" height="3.0" fill="#e1e1e1"/>
<rect x="475.0" y="1730.6" width="3.0" height="3.0" fill="#e9e9e9"/>
<rect x="478.0" y="1730.6" width="3.0" height="3.0" fill="#e9e9e9"/>
<rect x="676.0" y="1727.6" width="3.0" height="3.0" fill="#e1e1e1"/>
<rect x="679.0" y="1727.6" width="3.0" height="3.0" fill="#e1e1e1"/>
<rect x="676.0" y="1730.6" width="3.0" height="3.0" fill="#e9e9e9"/>
<rect x="679.0" y="1730.6" width="3.0" height="3.0" fill="#e9e9e9"/>
<rect x="877.0" y="1727.6" width="3.0" height="3.0" fill="#e2e2e2"/>
<rect x="880.0" y="1727.6" width="3.0" height="3.0" fill="#e2e2e2"/>
<rect x="877.0" y="1730.6" width="3.0" height="3.0" fill="#eaeaea"/>
<rect x="880.0" y="1730.6" width="3.0" height="3.0" fill="#eaeaea"/>
<rect x="1081.0" y="1727.6" width="3.0" height="3.0" fill="#d9d9d9"/>
<rect x="1084.0" y="1727.6" width="3.0" height="3.0" fill="#e4e4e4"/>
<rect x="1081.0" y="1730.6" width="3.0" height="3.0" fill="#dbdbdb"/>
<rect x="1084.0" y="1730.6" width="3.0" height="3.0" fill="#efefef"/>
<rect x="1282.5" y="1727.6" width="3.0" height="3.0" fill="#d9d9d9"/>
<rect x="1285.5" y="1727.6" width="3.0" height="3.0" fill="#e4e4e4"/>
<rect x="1282.5" y="1730.6" width="3.0" height="3.0" fill="#dadada"/>
<rect x="1285.5" y="1730.6" width="3.0" height="3.0" fill="#efefef"/>
<rect x="1484.0" y="1727.6" width="3.0" height="3.0" fill="#e3e3e3"/>
<rect x="1487.0" y="1727.6" width="3.0" height="3.0" fill="#dddddd"/>
<rect x="1484.0" y="1730.6" width="3.0" height="3.0" fill="#eeeeee"/>
<rect x="1487.0" y="1730.6" width="3.0" height="3.0" fill="#dedede"/>
<rect x="1685.0" y="1727.6" width="3.0" height="3.0" fill="#e3e3e3"/>
<rect x="1688.0" y="1727.6" width="3.0" height="3.0" fill="#dddddd"/>
<rect x="1685.0" y="1730.6" width="3.0" height="3.0" fill="#eeeeee"/>
<rect x="1688.0" y="1730.6" width="3.0" height="3.0" fill="#dedede"/>
<rect x="1889.0" y="1727.6" width="3.0" height="3.0" fill="#e1e1e1"/>
<rect x="1892.0" y="1727.6" width="3.0" height="3.0" fill="#e2e2e2"/>
<rect x="1889.0" y="1730.6" width="3.0" height="3.0" fill="#e4e4e4"/>
<rect x="1892.0" y="1730.6" width="3.0" height="3.0" fill="#eeeeee"/>
<rect x="2090.0" y="1727.6" width="3.0" height="3.0" fill="#e1e1e1"/>
<rect x="2093.0" y="1727.6" width="3.0" height="3.0" fill="#e2e2e2"/>
<rect x="2090.0" y="1730.6" width="3.0" height="3.0" fill="#e5e5e5"/>
<rect x="2093.0" y="1730.6" width="3.0" height="3.0" fill="#ededed"/>
<rect x="2291.0" y="1727.6" width="3.0" height="3.0" fill="#e1e1e1"/>
<rect x="2294.0" y="1727.6" width="3.0" height="3.0" fill="#e1e1e1"/>
<rect x="2291.0" y="1730.6" width="3.0" height="3.0" fill="#e8e8e8"/>
<rect x="2294.0" y="1730.6" width="3.0" height="3.0" fill="#e8e8e8"/>
<rect x="277.0" y="1428.0" width="2017.0" height="3.0" fill="#2e2e2e"/>
<rect x="277.0" y="1431.0" width="2017.0" height="3.0" fill="#a8a8a8"/>
<rect x="271.0" y="74.0" width="3.0" height="1657.0" fill="#d0d0d0"/>
<rect x="274.0" y="74.0" width="3.0" height="1657.0" fill="#1a1a1a"/>
</g>
<rect x="295.0" y="238.0" width="344.5" height="225.0" fill="#fff"/>
<rect x="1697.0" y="1599.0" width="593.0" height="122.0" fill="#fff"/>
<text class="tk" x="201.3" y="98.0" text-anchor="end">450</text>
<text class="tk" x="201.3" y="248.5" text-anchor="end">400</text>
<text class="tk" x="201.3" y="398.9" text-anchor="end">350</text>
<text class="tk" x="201.3" y="549.4" text-anchor="end">300</text>
<text class="tk" x="201.3" y="699.9" text-anchor="end">250</text>
<text class="tk" x="201.3" y="850.4" text-anchor="end">200</text>
<text class="tk" x="201.3" y="1000.8" text-anchor="end">150</text>
<text class="tk" x="201.3" y="1151.3" text-anchor="end">100</text>
<text class="tk" x="201.3" y="1301.8" text-anchor="end">50</text>
<text class="tk" x="201.3" y="1452.3" text-anchor="end">0</text>
<text class="tk" x="201.3" y="1602.7" text-anchor="end">−50</text>
<text class="tk" x="201.3" y="1753.2" text-anchor="end">−100</text>
<text class="tk" x="275.5" y="1556.9" text-anchor="middle">0</text>
<text class="tk" x="477.4" y="1556.9" text-anchor="middle">500</text>
<text class="tk" x="679.4" y="1556.9" text-anchor="middle">1000</text>
<text class="tk" x="881.4" y="1556.9" text-anchor="middle">1500</text>
<text class="tk" x="1083.3" y="1556.9" text-anchor="middle">2000</text>
<text class="tk" x="1285.2" y="1556.9" text-anchor="middle">2500</text>
<text class="tk" x="1487.2" y="1556.9" text-anchor="middle">3000</text>
<text class="tk" x="1689.2" y="1556.9" text-anchor="middle">3500</text>
<text class="tk" x="1891.1" y="1556.9" text-anchor="middle">4000</text>
<text class="tk" x="2093.1" y="1556.9" text-anchor="middle">4500</text>
<text class="tk" x="2295.0" y="1556.9" text-anchor="middle">5000</text>
<text x="311" y="329.4"><tspan class="sb" font-size="95.4">ΔU</tspan><tspan class="sb" font-size="62.5" x="433.3" y="351.6">TVThk</tspan></text>
<text class="sb" font-size="95.4" x="394.2" y="441" textLength="147" lengthAdjust="spacingAndGlyphs">[%]</text>
<text class="ax" x="1700.2" y="1692.8" textLength="577.4" lengthAdjust="spacingAndGlyphs">Frequency [Hz]</text>
<polyline fill="none" stroke="#ff0000" stroke-width="8.5" stroke-linejoin="round" stroke-linecap="butt" filter="url(#soft)" points="292.0,1430.3 315.9,1431.8 356.3,1434.8 396.7,1440.2 437.1,1448.1 477.4,1459.5 517.8,1475.8 558.2,1499.3 598.6,1547.8 639.0,1633.1 679.4,1445.4 719.8,1029.4 760.2,631.6 800.6,166.8 841.0,405.5 881.4,631.6 921.7,898.3 962.1,1074.6 1002.5,1153.0 1042.9,1127.4 1083.3,1080.7 1123.7,1008.3 1164.1,893.8 1204.5,800.4 1244.9,939.0 1285.2,1213.3 1325.6,1437.2 1366.0,1553.9 1406.4,1624.7 1446.8,1657.9 1487.2,1638.3 1525.6,1553.9 1568.0,1180.1 1608.4,791.3 1648.8,1144.0 1689.2,1309.7 1729.5,1391.1 1769.9,1435.4 1810.3,1443.6 1850.7,1438.1 1891.1,1433.3 1931.5,1436.9 1971.9,1442.4 2012.3,1447.5 2052.7,1450.5 2093.1,1452.6 2133.4,1455.0 2173.8,1455.6 2214.2,1442.4 2254.6,1427.9 2297.0,1418.8"/>
<text x="1170.5" y="1922.5"><tspan class="sr" font-size="86" textLength="25" lengthAdjust="spacingAndGlyphs">(</tspan><tspan class="sb" font-size="84" x="1196.3">a</tspan><tspan class="sr" font-size="86" x="1238.9" textLength="25" lengthAdjust="spacingAndGlyphs">)</tspan></text>
<g shape-rendering="crispEdges">
<rect x="277.0" y="2114.0" width="2017.0" height="3.0" fill="#ececec"/>
<rect x="277.0" y="2117.0" width="2017.0" height="3.0" fill="#ececec"/>
<rect x="277.0" y="2375.0" width="2017.0" height="3.0" fill="#fafafa"/>
<rect x="277.0" y="2378.0" width="2017.0" height="3.0" fill="#dadada"/>
<rect x="277.0" y="2639.0" width="2017.0" height="3.0" fill="#e1e1e1"/>
<rect x="277.0" y="2642.0" width="2017.0" height="3.0" fill="#f4f4f4"/>
<rect x="277.0" y="2903.0" width="2017.0" height="3.0" fill="#dedede"/>
<rect x="277.0" y="2906.0" width="2017.0" height="3.0" fill="#f6f6f6"/>
<rect x="277.0" y="3425.5" width="2017.0" height="3.0" fill="#fdfdfd"/>
<rect x="277.0" y="3428.5" width="2017.0" height="3.0" fill="#d9d9d9"/>
<rect x="277.0" y="3690.3" width="2017.0" height="3.0" fill="#e4e4e4"/>
<rect x="277.0" y="3693.3" width="2017.0" height="3.0" fill="#f0f0f0"/>
<rect x="475.0" y="2117.0" width="3.0" height="1576.5" fill="#dcdcdc"/>
<rect x="478.0" y="2117.0" width="3.0" height="1576.5" fill="#fbfbfb"/>
<rect x="676.0" y="2117.0" width="3.0" height="1576.5" fill="#f6f6f6"/>
<rect x="679.0" y="2117.0" width="3.0" height="1576.5" fill="#e1e1e1"/>
<rect x="877.0" y="2117.0" width="3.0" height="1576.5" fill="#fcfcfc"/>
<rect x="880.0" y="2117.0" width="3.0" height="1576.5" fill="#dcdcdc"/>
<rect x="1081.0" y="2117.0" width="3.0" height="1576.5" fill="#dadada"/>
<rect x="1084.0" y="2117.0" width="3.0" height="1576.5" fill="#fbfbfb"/>
<rect x="1282.3" y="2117.0" width="3.0" height="1576.5" fill="#f3f3f3"/>
<rect x="1285.3" y="2117.0" width="3.0" height="1576.5" fill="#e3e3e3"/>
<rect x="1484.0" y="2117.0" width="3.0" height="1576.5" fill="#f9f9f9"/>
<rect x="1487.0" y="2117.0" width="3.0" height="1576.5" fill="#dddddd"/>
<rect x="1685.0" y="2117.0" width="3.0" height="1576.5" fill="#fdfdfd"/>
<rect x="1688.0" y="2117.0" width="3.0" height="1576.5" fill="#d9d9d9"/>
<rect x="1889.0" y="2117.0" width="3.0" height="1576.5" fill="#f1f1f1"/>
<rect x="1892.0" y="2117.0" width="3.0" height="1576.5" fill="#e4e4e4"/>
<rect x="2090.0" y="2117.0" width="3.0" height="1576.5" fill="#f7f7f7"/>
<rect x="2093.0" y="2117.0" width="3.0" height="1576.5" fill="#dedede"/>
<rect x="2291.0" y="2117.0" width="3.0" height="1576.5" fill="#fcfcfc"/>
<rect x="2294.0" y="2117.0" width="3.0" height="1576.5" fill="#d9d9d9"/>
<rect x="475.0" y="2114.0" width="3.0" height="3.0" fill="#d9d9d9"/>
<rect x="478.0" y="2114.0" width="3.0" height="3.0" fill="#ebebeb"/>
<rect x="475.0" y="2117.0" width="3.0" height="3.0" fill="#d9d9d9"/>
<rect x="478.0" y="2117.0" width="3.0" height="3.0" fill="#ebebeb"/>
<rect x="676.0" y="2114.0" width="3.0" height="3.0" fill="#ebebeb"/>
<rect x="679.0" y="2114.0" width="3.0" height="3.0" fill="#dedede"/>
<rect x="676.0" y="2117.0" width="3.0" height="3.0" fill="#ebebeb"/>
<rect x="679.0" y="2117.0" width="3.0" height="3.0" fill="#dedede"/>
<rect x="877.0" y="2114.0" width="3.0" height="3.0" fill="#ececec"/>
<rect x="880.0" y="2114.0" width="3.0" height="3.0" fill="#d9d9d9"/>
<rect x="877.0" y="2117.0" width="3.0" height="3.0" fill="#ececec"/>
<rect x="880.0" y="2117.0" width="3.0" height="3.0" fill="#d9d9d9"/>
<rect x="1081.0" y="2114.0" width="3.0" height="3.0" fill="#d9d9d9"/>
<rect x="1084.0" y="2114.0" width="3.0" height="3.0" fill="#ebebeb"/>
<rect x="1081.0" y="2117.0" width="3.0" height="3.0" fill="#d9d9d9"/>
<rect x="1084.0" y="2117.0" width="3.0" height="3.0" fill="#ebebeb"/>
<rect x="1282.3" y="2114.0" width="3.0" height="3.0" fill="#eaeaea"/>
<rect x="1285.3" y="2114.0" width="3.0" height="3.0" fill="#e0e0e0"/>
<rect x="1282.3" y="2117.0" width="3.0" height="3.0" fill="#eaeaea"/>
<rect x="1285.3" y="2117.0" width="3.0" height="3.0" fill="#e0e0e0"/>
<rect x="1484.0" y="2114.0" width="3.0" height="3.0" fill="#ebebeb"/>
<rect x="1487.0" y="2114.0" width="3.0" height="3.0" fill="#dadada"/>
<rect x="1484.0" y="2117.0" width="3.0" height="3.0" fill="#ebebeb"/>
<rect x="1487.0" y="2117.0" width="3.0" height="3.0" fill="#dadada"/>
<rect x="1685.0" y="2114.0" width="3.0" height="3.0" fill="#ececec"/>
<rect x="1688.0" y="2114.0" width="3.0" height="3.0" fill="#d9d9d9"/>
<rect x="1685.0" y="2117.0" width="3.0" height="3.0" fill="#ececec"/>
<rect x="1688.0" y="2117.0" width="3.0" height="3.0" fill="#d9d9d9"/>
<rect x="1889.0" y="2114.0" width="3.0" height="3.0" fill="#eaeaea"/>
<rect x="1892.0" y="2114.0" width="3.0" height="3.0" fill="#e1e1e1"/>
<rect x="1889.0" y="2117.0" width="3.0" height="3.0" fill="#eaeaea"/>
<rect x="1892.0" y="2117.0" width="3.0" height="3.0" fill="#e1e1e1"/>
<rect x="2090.0" y="2114.0" width="3.0" height="3.0" fill="#ebebeb"/>
<rect x="2093.0" y="2114.0" width="3.0" height="3.0" fill="#dbdbdb"/>
<rect x="2090.0" y="2117.0" width="3.0" height="3.0" fill="#ebebeb"/>
<rect x="2093.0" y="2117.0" width="3.0" height="3.0" fill="#dbdbdb"/>
<rect x="2291.0" y="2114.0" width="3.0" height="3.0" fill="#ececec"/>
<rect x="2294.0" y="2114.0" width="3.0" height="3.0" fill="#d9d9d9"/>
<rect x="2291.0" y="2117.0" width="3.0" height="3.0" fill="#ececec"/>
<rect x="2294.0" y="2117.0" width="3.0" height="3.0" fill="#d9d9d9"/>
<rect x="475.0" y="2375.0" width="3.0" height="3.0" fill="#dbdbdb"/>
<rect x="478.0" y="2375.0" width="3.0" height="3.0" fill="#fafafa"/>
<rect x="475.0" y="2378.0" width="3.0" height="3.0" fill="#d9d9d9"/>
<rect x="478.0" y="2378.0" width="3.0" height="3.0" fill="#dadada"/>
<rect x="676.0" y="2375.0" width="3.0" height="3.0" fill="#f5f5f5"/>
<rect x="679.0" y="2375.0" width="3.0" height="3.0" fill="#e0e0e0"/>
<rect x="676.0" y="2378.0" width="3.0" height="3.0" fill="#d9d9d9"/>
<rect x="679.0" y="2378.0" width="3.0" height="3.0" fill="#d9d9d9"/>
<rect x="877.0" y="2375.0" width="3.0" height="3.0" fill="#fafafa"/>
<rect x="880.0" y="2375.0" width="3.0" height="3.0" fill="#dbdbdb"/>
<rect x="877.0" y="2378.0" width="3.0" height="3.0" fill="#dadada"/>
<rect x="880.0" y="2378.0" width="3.0" height="3.0" fill="#d9d9d9"/>
<rect x="1081.0" y="2375.0" width="3.0" height="3.0" fill="#d9d9d9"/>
<rect x="1084.0" y="2375.0" width="3.0" height="3.0" fill="#fafafa"/>
<rect x="1081.0" y="2378.0" width="3.0" height="3.0" fill="#d9d9d9"/>
<rect x="1084.0" y="2378.0" width="3.0" height="3.0" fill="#dadada"/>
<rect x="1282.3" y="2375.0" width="3.0" height="3.0" fill="#f2f2f2"/>
<rect x="1285.3" y="2375.0" width="3.0" height="3.0" fill="#e2e2e2"/>
<rect x="1282.3" y="2378.0" width="3.0" height="3.0" fill="#d9d9d9"/>
<rect x="1285.3" y="2378.0" width="3.0" height="3.0" fill="#d9d9d9"/>
<rect x="1484.0" y="2375.0" width="3.0" height="3.0" fill="#f8f8f8"/>
<rect x="1487.0" y="2375.0" width="3.0" height="3.0" fill="#dcdcdc"/>
<rect x="1484.0" y="2378.0" width="3.0" height="3.0" fill="#d9d9d9"/>
<rect x="1487.0" y="2378.0" width="3.0" height="3.0" fill="#d9d9d9"/>
<rect x="1685.0" y="2375.0" width="3.0" height="3.0" fill="#fafafa"/>
<rect x="1688.0" y="2375.0" width="3.0" height="3.0" fill="#d9d9d9"/>
<rect x="1685.0" y="2378.0" width="3.0" height="3.0" fill="#dadada"/>
<rect x="1688.0" y="2378.0" width="3.0" height="3.0" fill="#d9d9d9"/>
<rect x="1889.0" y="2375.0" width="3.0" height="3.0" fill="#f0f0f0"/>
<rect x="1892.0" y="2375.0" width="3.0" height="3.0" fill="#e3e3e3"/>
<rect x="1889.0" y="2378.0" width="3.0" height="3.0" fill="#d9d9d9"/>
<rect x="1892.0" y="2378.0" width="3.0" height="3.0" fill="#d9d9d9"/>
<rect x="2090.0" y="2375.0" width="3.0" height="3.0" fill="#f7f7f7"/>
<rect x="2093.0" y="2375.0" width="3.0" height="3.0" fill="#dddddd"/>
<rect x="2090.0" y="2378.0" width="3.0" height="3.0" fill="#d9d9d9"/>
<rect x="2093.0" y="2378.0" width="3.0" height="3.0" fill="#d9d9d9"/>
<rect x="2291.0" y="2375.0" width="3.0" height="3.0" fill="#fafafa"/>
<rect x="2294.0" y="2375.0" width="3.0" height="3.0" fill="#d9d9d9"/>
<rect x="2291.0" y="2378.0" width="3.0" height="3.0" fill="#dadada"/>
<rect x="2294.0" y="2378.0" width="3.0" height="3.0" fill="#d9d9d9"/>
<rect x="475.0" y="2639.0" width="3.0" height="3.0" fill="#d9d9d9"/>
<rect x="478.0" y="2639.0" width="3.0" height="3.0" fill="#e0e0e0"/>
<rect x="475.0" y="2642.0" width="3.0" height="3.0" fill="#dadada"/>
<rect x="478.0" y="2642.0" width="3.0" height="3.0" fill="#f3f3f3"/>
<rect x="676.0" y="2639.0" width="3.0" height="3.0" fill="#dfdfdf"/>
<rect x="679.0" y="2639.0" width="3.0" height="3.0" fill="#dcdcdc"/>
<rect x="676.0" y="2642.0" width="3.0" height="3.0" fill="#f2f2f2"/>
<rect x="679.0" y="2642.0" width="3.0" height="3.0" fill="#dfdfdf"/>
<rect x="877.0" y="2639.0" width="3.0" height="3.0" fill="#e0e0e0"/>
<rect x="880.0" y="2639.0" width="3.0" height="3.0" fill="#d9d9d9"/>
<rect x="877.0" y="2642.0" width="3.0" height="3.0" fill="#f3f3f3"/>
<rect x="880.0" y="2642.0" width="3.0" height="3.0" fill="#dadada"/>
<rect x="1081.0" y="2639.0" width="3.0" height="3.0" fill="#d9d9d9"/>
<rect x="1084.0" y="2639.0" width="3.0" height="3.0" fill="#e0e0e0"/>
<rect x="1081.0" y="2642.0" width="3.0" height="3.0" fill="#d9d9d9"/>
<rect x="1084.0" y="2642.0" width="3.0" height="3.0" fill="#f3f3f3"/>
<rect x="1282.3" y="2639.0" width="3.0" height="3.0" fill="#dfdfdf"/>
<rect x="1285.3" y="2639.0" width="3.0" height="3.0" fill="#dcdcdc"/>
<rect x="1282.3" y="2642.0" width="3.0" height="3.0" fill="#f1f1f1"/>
<rect x="1285.3" y="2642.0" width="3.0" height="3.0" fill="#e1e1e1"/>
<rect x="1484.0" y="2639.0" width="3.0" height="3.0" fill="#e0e0e0"/>
<rect x="1487.0" y="2639.0" width="3.0" height="3.0" fill="#d9d9d9"/>
<rect x="1484.0" y="2642.0" width="3.0" height="3.0" fill="#f3f3f3"/>
<rect x="1487.0" y="2642.0" width="3.0" height="3.0" fill="#dbdbdb"/>
<rect x="1685.0" y="2639.0" width="3.0" height="3.0" fill="#e0e0e0"/>
<rect x="1688.0" y="2639.0" width="3.0" height="3.0" fill="#d9d9d9"/>
<rect x="1685.0" y="2642.0" width="3.0" height="3.0" fill="#f3f3f3"/>
<rect x="1688.0" y="2642.0" width="3.0" height="3.0" fill="#d9d9d9"/>
<rect x="1889.0" y="2639.0" width="3.0" height="3.0" fill="#dedede"/>
<rect x="1892.0" y="2639.0" width="3.0" height="3.0" fill="#dddddd"/>
<rect x="1889.0" y="2642.0" width="3.0" height="3.0" fill="#efefef"/>
<rect x="1892.0" y="2642.0" width="3.0" height="3.0" fill="#e2e2e2"/>
<rect x="2090.0" y="2639.0" width="3.0" height="3.0" fill="#dfdfdf"/>
<rect x="2093.0" y="2639.0" width="3.0" height="3.0" fill="#d9d9d9"/>
<rect x="2090.0" y="2642.0" width="3.0" height="3.0" fill="#f2f2f2"/>
<rect x="2093.0" y="2642.0" width="3.0" height="3.0" fill="#dcdcdc"/>
<rect x="2291.0" y="2639.0" width="3.0" height="3.0" fill="#e0e0e0"/>
<rect x="2294.0" y="2639.0" width="3.0" height="3.0" fill="#d9d9d9"/>
<rect x="2291.0" y="2642.0" width="3.0" height="3.0" fill="#f3f3f3"/>
<rect x="2294.0" y="2642.0" width="3.0" height="3.0" fill="#d9d9d9"/>
<rect x="475.0" y="2903.0" width="3.0" height="3.0" fill="#d9d9d9"/>
<rect x="478.0" y="2903.0" width="3.0" height="3.0" fill="#dddddd"/>
<rect x="475.0" y="2906.0" width="3.0" height="3.0" fill="#dbdbdb"/>
<rect x="478.0" y="2906.0" width="3.0" height="3.0" fill="#f5f5f5"/>
<rect x="676.0" y="2903.0" width="3.0" height="3.0" fill="#dddddd"/>
<rect x="679.0" y="2903.0" width="3.0" height="3.0" fill="#d9d9d9"/>
<rect x="676.0" y="2906.0" width="3.0" height="3.0" fill="#f5f5f5"/>
<rect x="679.0" y="2906.0" width="3.0" height="3.0" fill="#e0e0e0"/>
<rect x="877.0" y="2903.0" width="3.0" height="3.0" fill="#dddddd"/>
<rect x="880.0" y="2903.0" width="3.0" height="3.0" fill="#d9d9d9"/>
<rect x="877.0" y="2906.0" width="3.0" height="3.0" fill="#f5f5f5"/>
<rect x="880.0" y="2906.0" width="3.0" height="3.0" fill="#dbdbdb"/>
<rect x="1081.0" y="2903.0" width="3.0" height="3.0" fill="#d9d9d9"/>
<rect x="1084.0" y="2903.0" width="3.0" height="3.0" fill="#dddddd"/>
<rect x="1081.0" y="2906.0" width="3.0" height="3.0" fill="#d9d9d9"/>
<rect x="1084.0" y="2906.0" width="3.0" height="3.0" fill="#f5f5f5"/>
<rect x="1282.3" y="2903.0" width="3.0" height="3.0" fill="#dcdcdc"/>
<rect x="1285.3" y="2903.0" width="3.0" height="3.0" fill="#dadada"/>
<rect x="1282.3" y="2906.0" width="3.0" height="3.0" fill="#f1f1f1"/>
<rect x="1285.3" y="2906.0" width="3.0" height="3.0" fill="#e2e2e2"/>
<rect x="1484.0" y="2903.0" width="3.0" height="3.0" fill="#dddddd"/>
<rect x="1487.0" y="2903.0" width="3.0" height="3.0" fill="#d9d9d9"/>
<rect x="1484.0" y="2906.0" width="3.0" height="3.0" fill="#f5f5f5"/>
<rect x="1487.0" y="2906.0" width="3.0" height="3.0" fill="#dbdbdb"/>
<rect x="1685.0" y="2903.0" width="3.0" height="3.0" fill="#dedede"/>
<rect x="1688.0" y="2903.0" width="3.0" height="3.0" fill="#d9d9d9"/>
<rect x="1685.0" y="2906.0" width="3.0" height="3.0" fill="#f6f6f6"/>
<rect x="1688.0" y="2906.0" width="3.0" height="3.0" fill="#d9d9d9"/>
<rect x="1889.0" y="2903.0" width="3.0" height="3.0" fill="#dcdcdc"/>
<rect x="1892.0" y="2903.0" width="3.0" height="3.0" fill="#dadada"/>
<rect x="1889.0" y="2906.0" width="3.0" height="3.0" fill="#f0f0f0"/>
<rect x="1892.0" y="2906.0" width="3.0" height="3.0" fill="#e3e3e3"/>
<rect x="2090.0" y="2903.0" width="3.0" height="3.0" fill="#dddddd"/>
<rect x="2093.0" y="2903.0" width="3.0" height="3.0" fill="#d9d9d9"/>
<rect x="2090.0" y="2906.0" width="3.0" height="3.0" fill="#f5f5f5"/>
<rect x="2093.0" y="2906.0" width="3.0" height="3.0" fill="#dddddd"/>
<rect x="2291.0" y="2903.0" width="3.0" height="3.0" fill="#dddddd"/>
<rect x="2294.0" y="2903.0" width="3.0" height="3.0" fill="#d9d9d9"/>
<rect x="2291.0" y="2906.0" width="3.0" height="3.0" fill="#f5f5f5"/>
<rect x="2294.0" y="2906.0" width="3.0" height="3.0" fill="#d9d9d9"/>
<rect x="475.0" y="3425.5" width="3.0" height="3.0" fill="#dcdcdc"/>
<rect x="478.0" y="3425.5" width="3.0" height="3.0" fill="#fbfbfb"/>
<rect x="475.0" y="3428.5" width="3.0" height="3.0" fill="#d9d9d9"/>
<rect x="478.0" y="3428.5" width="3.0" height="3.0" fill="#d9d9d9"/>
<rect x="676.0" y="3425.5" width="3.0" height="3.0" fill="#f6f6f6"/>
<rect x="679.0" y="3425.5" width="3.0" height="3.0" fill="#e1e1e1"/>
<rect x="676.0" y="3428.5" width="3.0" height="3.0" fill="#d9d9d9"/>
<rect x="679.0" y="3428.5" width="3.0" height="3.0" fill="#d9d9d9"/>
<rect x="877.0" y="3425.5" width="3.0" height="3.0" fill="#fcfcfc"/>
<rect x="880.0" y="3425.5" width="3.0" height="3.0" fill="#dcdcdc"/>
<rect x="877.0" y="3428.5" width="3.0" height="3.0" fill="#d9d9d9"/>
<rect x="880.0" y="3428.5" width="3.0" height="3.0" fill="#d9d9d9"/>
<rect x="1081.0" y="3425.5" width="3.0" height="3.0" fill="#dadada"/>
<rect x="1084.0" y="3425.5" width="3.0" height="3.0" fill="#fbfbfb"/>
<rect x="1081.0" y="3428.5" width="3.0" height="3.0" fill="#d9d9d9"/>
<rect x="1084.0" y="3428.5" width="3.0" height="3.0" fill="#d9d9d9"/>
<rect x="1282.3" y="3425.5" width="3.0" height="3.0" fill="#f2f2f2"/>
<rect x="1285.3" y="3425.5" width="3.0" height="3.0" fill="#e3e3e3"/>
<rect x="1282.3" y="3428.5" width="3.0" height="3.0" fill="#d9d9d9"/>
<rect x="1285.3" y="3428.5" width="3.0" height="3.0" fill="#d9d9d9"/>
<rect x="1484.0" y="3425.5" width="3.0" height="3.0" fill="#f9f9f9"/>
<rect x="1487.0" y="3425.5" width="3.0" height="3.0" fill="#dcdcdc"/>
<rect x="1484.0" y="3428.5" width="3.0" height="3.0" fill="#d9d9d9"/>
<rect x="1487.0" y="3428.5" width="3.0" height="3.0" fill="#d9d9d9"/>
<rect x="1685.0" y="3425.5" width="3.0" height="3.0" fill="#fcfcfc"/>
<rect x="1688.0" y="3425.5" width="3.0" height="3.0" fill="#d9d9d9"/>
<rect x="1685.0" y="3428.5" width="3.0" height="3.0" fill="#d9d9d9"/>
<rect x="1688.0" y="3428.5" width="3.0" height="3.0" fill="#d9d9d9"/>
<rect x="1889.0" y="3425.5" width="3.0" height="3.0" fill="#f1f1f1"/>
<rect x="1892.0" y="3425.5" width="3.0" height="3.0" fill="#e4e4e4"/>
<rect x="1889.0" y="3428.5" width="3.0" height="3.0" fill="#d9d9d9"/>
<rect x="1892.0" y="3428.5" width="3.0" height="3.0" fill="#d9d9d9"/>
<rect x="2090.0" y="3425.5" width="3.0" height="3.0" fill="#f7f7f7"/>
<rect x="2093.0" y="3425.5" width="3.0" height="3.0" fill="#dedede"/>
<rect x="2090.0" y="3428.5" width="3.0" height="3.0" fill="#d9d9d9"/>
<rect x="2093.0" y="3428.5" width="3.0" height="3.0" fill="#d9d9d9"/>
<rect x="2291.0" y="3425.5" width="3.0" height="3.0" fill="#fcfcfc"/>
<rect x="2294.0" y="3425.5" width="3.0" height="3.0" fill="#d9d9d9"/>
<rect x="2291.0" y="3428.5" width="3.0" height="3.0" fill="#d9d9d9"/>
<rect x="2294.0" y="3428.5" width="3.0" height="3.0" fill="#d9d9d9"/>
<rect x="475.0" y="3690.3" width="3.0" height="3.0" fill="#d9d9d9"/>
<rect x="478.0" y="3690.3" width="3.0" height="3.0" fill="#e4e4e4"/>
<rect x="475.0" y="3693.3" width="3.0" height="3.0" fill="#dadada"/>
<rect x="478.0" y="3693.3" width="3.0" height="3.0" fill="#efefef"/>
<rect x="676.0" y="3690.3" width="3.0" height="3.0" fill="#e3e3e3"/>
<rect x="679.0" y="3690.3" width="3.0" height="3.0" fill="#dddddd"/>
<rect x="676.0" y="3693.3" width="3.0" height="3.0" fill="#eeeeee"/>
<rect x="679.0" y="3693.3" width="3.0" height="3.0" fill="#dfdfdf"/>
<rect x="877.0" y="3690.3" width="3.0" height="3.0" fill="#e4e4e4"/>
<rect x="880.0" y="3690.3" width="3.0" height="3.0" fill="#d9d9d9"/>
<rect x="877.0" y="3693.3" width="3.0" height="3.0" fill="#efefef"/>
<rect x="880.0" y="3693.3" width="3.0" height="3.0" fill="#dadada"/>
<rect x="1081.0" y="3690.3" width="3.0" height="3.0" fill="#d9d9d9"/>
<rect x="1084.0" y="3690.3" width="3.0" height="3.0" fill="#e4e4e4"/>
<rect x="1081.0" y="3693.3" width="3.0" height="3.0" fill="#d9d9d9"/>
<rect x="1084.0" y="3693.3" width="3.0" height="3.0" fill="#efefef"/>
<rect x="1282.3" y="3690.3" width="3.0" height="3.0" fill="#e3e3e3"/>
<rect x="1285.3" y="3690.3" width="3.0" height="3.0" fill="#dfdfdf"/>
<rect x="1282.3" y="3693.3" width="3.0" height="3.0" fill="#eeeeee"/>
<rect x="1285.3" y="3693.3" width="3.0" height="3.0" fill="#e1e1e1"/>
<rect x="1484.0" y="3690.3" width="3.0" height="3.0" fill="#e3e3e3"/>
<rect x="1487.0" y="3690.3" width="3.0" height="3.0" fill="#d9d9d9"/>
<rect x="1484.0" y="3693.3" width="3.0" height="3.0" fill="#efefef"/>
<rect x="1487.0" y="3693.3" width="3.0" height="3.0" fill="#dbdbdb"/>
<rect x="1685.0" y="3690.3" width="3.0" height="3.0" fill="#e4e4e4"/>
<rect x="1688.0" y="3690.3" width="3.0" height="3.0" fill="#d9d9d9"/>
<rect x="1685.0" y="3693.3" width="3.0" height="3.0" fill="#f0f0f0"/>
<rect x="1688.0" y="3693.3" width="3.0" height="3.0" fill="#d9d9d9"/>
<rect x="1889.0" y="3690.3" width="3.0" height="3.0" fill="#e2e2e2"/>
<rect x="1892.0" y="3690.3" width="3.0" height="3.0" fill="#e0e0e0"/>
<rect x="1889.0" y="3693.3" width="3.0" height="3.0" fill="#eeeeee"/>
<rect x="1892.0" y="3693.3" width="3.0" height="3.0" fill="#e2e2e2"/>
<rect x="2090.0" y="3690.3" width="3.0" height="3.0" fill="#e3e3e3"/>
<rect x="2093.0" y="3690.3" width="3.0" height="3.0" fill="#dadada"/>
<rect x="2090.0" y="3693.3" width="3.0" height="3.0" fill="#efefef"/>
<rect x="2093.0" y="3693.3" width="3.0" height="3.0" fill="#dcdcdc"/>
<rect x="2291.0" y="3690.3" width="3.0" height="3.0" fill="#e4e4e4"/>
<rect x="2294.0" y="3690.3" width="3.0" height="3.0" fill="#d9d9d9"/>
<rect x="2291.0" y="3693.3" width="3.0" height="3.0" fill="#efefef"/>
<rect x="2294.0" y="3693.3" width="3.0" height="3.0" fill="#d9d9d9"/>
<rect x="277.0" y="3164.0" width="2017.0" height="3.0" fill="#8e8e8e"/>
<rect x="277.0" y="3167.0" width="2017.0" height="3.0" fill="#5e5e5e"/>
<rect x="271.0" y="2117.0" width="3.0" height="1576.5" fill="#eeeeee"/>
<rect x="274.0" y="2117.0" width="3.0" height="1576.5" fill="#000000"/>
</g>
<rect x="300.0" y="2180.0" width="410.0" height="123.0" fill="#fff"/>
<rect x="1720.0" y="3377.0" width="580.0" height="124.0" fill="#fff"/>
<text class="tk" x="201.3" y="2139.4" text-anchor="end">200</text>
<text class="tk" x="201.3" y="2402.2" text-anchor="end">150</text>
<text class="tk" x="201.3" y="2665.1" text-anchor="end">100</text>
<text class="tk" x="201.3" y="2927.9" text-anchor="end">50</text>
<text class="tk" x="201.3" y="3190.8" text-anchor="end">0</text>
<text class="tk" x="201.3" y="3453.7" text-anchor="end">−50</text>
<text class="tk" x="201.3" y="3716.5" text-anchor="end">−100</text>
<text class="tk" x="276.2" y="3295.3" text-anchor="middle">0</text>
<text class="tk" x="478.1" y="3295.3" text-anchor="middle">500</text>
<text class="tk" x="680.1" y="3295.3" text-anchor="middle">1000</text>
<text class="tk" x="882.1" y="3295.3" text-anchor="middle">1500</text>
<text class="tk" x="1084.0" y="3295.3" text-anchor="middle">2000</text>
<text class="tk" x="1286.0" y="3295.3" text-anchor="middle">2500</text>
<text class="tk" x="1487.9" y="3295.3" text-anchor="middle">3000</text>
<text class="tk" x="1689.9" y="3295.3" text-anchor="middle">3500</text>
<text class="tk" x="1891.8" y="3295.3" text-anchor="middle">4000</text>
<text class="tk" x="2093.8" y="3295.3" text-anchor="middle">4500</text>
<text class="tk" x="2295.7" y="3295.3" text-anchor="middle">5000</text>
<text x="313" y="2275"><tspan class="sb" font-size="92" textLength="50.9" lengthAdjust="spacingAndGlyphs">δ</tspan><tspan class="nb" font-size="86" x="361.3">U</tspan><tspan class="nb" font-size="58.6" x="423" y="2297.1" textLength="160.4" lengthAdjust="spacingAndGlyphs">TVThk</tspan><tspan class="sr" font-size="40"> </tspan><tspan class="nr" font-size="83.7" x="610.9" y="2273.9" textLength="27.7" lengthAdjust="spacingAndGlyphs">[</tspan><tspan class="sr" font-size="104" x="635.9" y="2280.8">°</tspan><tspan class="nr" font-size="83.7" x="677.5" y="2273.9" textLength="27.7" lengthAdjust="spacingAndGlyphs">]</tspan></text>
<text class="ax" x="1730.6" y="3471.3" textLength="577.4" lengthAdjust="spacingAndGlyphs">Frequency [Hz]</text>
<polyline fill="none" stroke="#5b9bd5" stroke-width="8.5" stroke-linejoin="round" stroke-linecap="butt" filter="url(#soft)" points="292.0,3169.9 315.9,3169.9 356.3,3169.9 396.7,3169.9 437.1,3171.5 477.4,3168.9 517.8,3171.5 558.2,3168.9 598.6,3169.9 639.0,3171.5 679.4,3185.2 719.8,3261.9 760.2,2456.8 800.6,3138.9 841.0,3099.5 881.4,2824.1 921.7,3181.0 962.1,3170.5 1002.5,3170.5 1042.9,3176.2 1083.3,3184.1 1123.7,3196.2 1164.1,3214.1 1204.5,3247.2 1244.9,3303.9 1285.2,3416.4 1325.6,3583.5 1366.0,2632.9 1406.4,2560.3 1446.8,2540.9 1487.2,2514.6 1527.6,2409.0 1568.0,2246.9 1608.4,2379.1 1648.8,2517.8 1689.2,2899.3 1729.5,3088.5 1769.9,3135.8 1810.3,3141.0 1850.7,3123.7 1891.1,3101.6 1931.5,3089.5 1971.9,3090.1 2012.3,3092.2 2052.7,3091.6 2093.1,3087.4 2133.4,3080.6 2173.8,3073.8 2214.2,3064.8 2254.6,3049.6 2297.0,3034.3"/>
<text x="1166.4" y="3882.4"><tspan class="sr" font-size="86" textLength="25" lengthAdjust="spacingAndGlyphs">(</tspan><tspan class="sb" font-size="88" x="1192.5">b</tspan><tspan class="sr" font-size="86" x="1244" textLength="25" lengthAdjust="spacingAndGlyphs">)</tspan></text>
</svg></body></html>
